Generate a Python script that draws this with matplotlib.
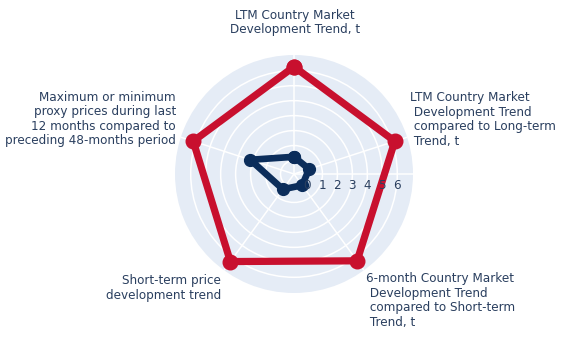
import numpy as np
import matplotlib
matplotlib.use("Agg")
import matplotlib.pyplot as plt

# categories (clockwise from top) and the two series
categories = [
    "LTM Country Market\nDevelopment Trend, t",
    "LTM Country Market\n Development Trend\n compared to Long-term\n Trend, t",
    "6-month Country Market\n Development Trend\n compared to Short-term\n Trend, t",
    "Short-term price\ndevelopment trend",
    "Maximum or minimum\nproxy prices during last\n12 months compared to\npreceding 48-months period",
]
red_values = [6.27, 6.18, 6.27, 6.33, 6.18]
blue_values = [0.25, 0.16, 0.03, 0.36, 2.17]
r_ticks = [0, 1, 2, 3, 4, 5, 6]

txt = "#2a3f5f"
bg = "#e5ecf6"
red = "#c8102e"
navy = "#0b2d5b"
fs = 8.64  # 12 px

fig = plt.figure(figsize=(5.65, 3.37), dpi=100)
W, H = 565, 337
cx, cy, R = 294, 174, 119
ax = fig.add_axes([(cx - R) / W, 1 - (cy + R) / H, 2 * R / W, 2 * R / H], polar=True)
ax.set_facecolor(bg)
ax.set_theta_offset(np.pi / 2)
ax.set_theta_direction(-1)
ax.set_ylim(-0.9, 7.05)

n = len(categories)
theta = np.arange(n) * 2 * np.pi / n
th = np.append(theta, theta[0])

ax.set_xticks(theta)
ax.set_xticklabels([])
ax.set_yticks(r_ticks)
ax.set_yticklabels([])
ax.grid(True, color="white", linewidth=1.1)
ax.spines["polar"].set_visible(False)
ax.tick_params(length=0)

# radial axis line pointing east
ax.plot([np.pi / 2, np.pi / 2], [-0.9, 7.05], color="white", lw=1.1, zorder=1)
for r in r_ticks:
    ax.annotate(str(r), xy=(np.pi / 2, r), xytext=(0, -8.6), textcoords="offset points",
                ha="center", va="center", fontsize=fs, color=txt, zorder=5)

ax.plot(th, np.append(red_values, red_values[0]), color=red, lw=5.2,
        marker="o", ms=10.5, solid_joinstyle="round", zorder=3)
ax.plot(th, np.append(blue_values, blue_values[0]), color=navy, lw=4.8,
        marker="o", ms=8.5, solid_joinstyle="round", zorder=4)

# category labels around the circle (pixel anchors)
label_pos = [(295, 22.5, "center"), (410, 119.5, "left"), (366, 300.5, "left"),
             (221, 288, "right"), (176, 119, "right")]
for lab, (x, y, ha) in zip(categories, label_pos):
    fig.text(x / W, 1 - y / H, lab, ha=ha, va="center", fontsize=fs, color=txt,
             linespacing=1.15, multialignment=ha)

fig.savefig("out.png", dpi=100, facecolor="white")
